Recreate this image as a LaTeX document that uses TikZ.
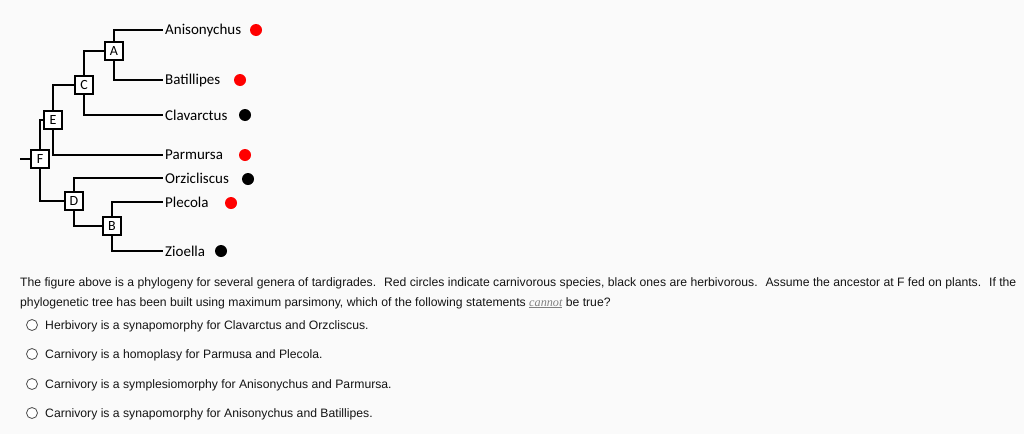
\documentclass[tikz,border=0pt]{standalone}
\usepackage{fontspec}
\setmainfont{Liberation Sans}
\newfontfamily\calibri{Carlito}
\newfontfamily\serifit{Liberation Serif}

\definecolor{sfondo}{HTML}{FAFAFA}
\definecolor{testo}{HTML}{151515}
\definecolor{rosso}{HTML}{FF0000}
\definecolor{link}{HTML}{808080}

\tikzstyle{nodo} = [draw=black, line width=1.4pt, fill=white, minimum size=18pt, inner sep=0pt, font=\calibri\fontsize{14}{14}\selectfont]
\tikzstyle{foglia} = [anchor=west, inner sep=2pt, font=\calibri\fontsize{15}{15}\selectfont]
\tikzstyle{ramo} = [line width=2.2pt]
\tikzstyle{pallino} = [circle, minimum size=12pt, inner sep=0pt]
\tikzstyle{riga} = [anchor=base west, inner sep=0pt, text=testo, font=\fontsize{12.2}{12.2}\selectfont]
\tikzstyle{radio} = [circle, draw=black!70, line width=0.8pt, fill=white, minimum size=11pt, inner sep=0pt]

\begin{document}
\begin{tikzpicture}[x=1pt, y=-1pt]

    \useasboundingbox[fill=sfondo] (0,0) rectangle (1024,434);

    % Nodi interni
    \node[nodo] (A) at (114,51) {A};
    \node[nodo] (C) at (84,85) {C};
    \node[nodo] (E) at (53,120) {E};
    \node[nodo] (F) at (40,159) {F};
    \node[nodo] (D) at (74,201) {D};
    \node[nodo] (B) at (112,226) {B};
    \coordinate (radice) at (20,159);

    % Foglie
    \node[foglia] (anis) at (163,30) {Anisonychus};
    \node[foglia] (bati) at (163,80) {Batillipes};
    \node[foglia] (clav) at (163,115) {Clavarctus};
    \node[foglia] (parm) at (163,155) {Parmursa};
    \node[foglia] (orzi) at (163,178) {Orzicliscus};
    \node[foglia] (plec) at (163,202) {Plecola};
    \node[foglia] (zioe) at (163,251) {Zioella};

    % Rami
    \draw[ramo] (radice) -- (F.west);
    \draw[ramo] (F.north) |- (E.west);
    \draw[ramo] (F.south) |- (D.west);
    \draw[ramo] (E.north) |- (C.west);
    \draw[ramo] (E.south) |- (parm.west);
    \draw[ramo] (C.north) |- (A.west);
    \draw[ramo] (C.south) |- (clav.west);
    \draw[ramo] (A.north) |- (anis.west);
    \draw[ramo] (A.south) |- (bati.west);
    \draw[ramo] (D.north) |- (orzi.west);
    \draw[ramo] (D.south) |- (B.west);
    \draw[ramo] (B.north) |- (plec.west);
    \draw[ramo] (B.south) |- (zioe.west);

    % Pallini
    \node[pallino, fill=rosso] (pA) at (256,30) {};
    \node[pallino, fill=rosso] (pB) at (240,80) {};
    \node[pallino, fill=black] (pC) at (245,115) {};
    \node[pallino, fill=rosso] (pP) at (245,155) {};
    \node[pallino, fill=black] (pO) at (248,179) {};
    \node[pallino, fill=rosso] (pL) at (231,203) {};
    \node[pallino, fill=black] (pZ) at (221,251) {};

    % Testo della domanda
    \node[riga] (riga1) at (20,286) {The figure above is a phylogeny for several genera of tardigrades.~ Red circles indicate carnivorous species, black ones are herbivorous.~ Assume the ancestor at F fed on plants.~ If the};
    \node[riga] (riga2) at (20,306) {phylogenetic tree has been built using maximum parsimony, which of the following statements {\color{link}\underline{\serifit\itshape cannot}} be true?};

    % Risposte
    \node[radio] (r1) at (32,325) {};
    \node[radio] (r2) at (32,354) {};
    \node[radio] (r3) at (32,384) {};
    \node[radio] (r4) at (32,413) {};
    \node[riga] (t1) at (45,329) {Herbivory is a synapomorphy for Clavarctus and Orzcliscus.};
    \node[riga] (t2) at (45,358) {Carnivory is a homoplasy for Parmusa and Plecola.};
    \node[riga] (t3) at (45,388) {Carnivory is a symplesiomorphy for Anisonychus and Parmursa.};
    \node[riga] (t4) at (45,417) {Carnivory is a synapomorphy for Anisonychus and Batillipes.};

\end{tikzpicture}
\end{document}
